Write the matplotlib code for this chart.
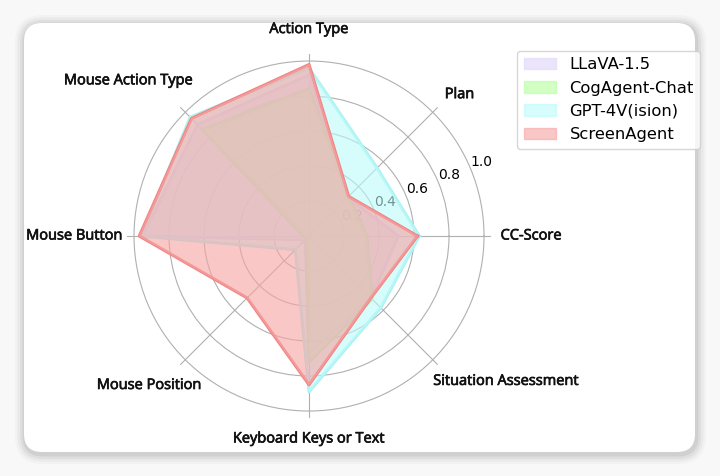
import numpy as np
import matplotlib
matplotlib.use("Agg")
import matplotlib.pyplot as plt
import matplotlib.patheffects as pe
from matplotlib.patches import FancyBboxPatch

# categories, counter-clockwise starting from the right (0 deg)
categories = ["CC-Score", "Plan", "Action Type", "Mouse Action Type",
              "Mouse Button", "Mouse Position", "Keyboard Keys or Text",
              "Situation Assessment"]

models = ["LLaVA-1.5", "CogAgent-Chat", "GPT-4V(ision)", "ScreenAgent"]
llava = [0.51, 0.31, 0.92, 0.90, 0.95, 0.03, 0.67, 0.50]
cogagent = [0.33, 0.32, 0.84, 0.86, 0.03, 0.02, 0.72, 0.51]
gpt4v = [0.63, 0.55, 0.96, 0.96, 0.96, 0.11, 0.89, 0.58]
screenagent = [0.62, 0.32, 0.98, 0.95, 0.97, 0.50, 0.85, 0.50]

rticks = [0.2, 0.4, 0.6, 0.8, 1.0]

line_colors = ["#dcc0ee", "#9fe88a", "#a8f0f0", "#f08080"]
fill_colors = ["#ded5fa", "#b4ff9e", "#bcfafa", "#f7a3a3"]

# where the category names sit (angle in deg, radius in data units)
label_ang = [0, 43.2, 90, 139.3, 180, 223.1, 270, 323.6]
label_r = [1.27, 1.18, 1.18, 1.36, 1.34, 1.25, 1.16, 1.40]

fig = plt.figure(figsize=(7.2, 4.76), dpi=100, facecolor="#f8f8f8")

# card with soft shadow
for i, a in enumerate([0.025, 0.035, 0.045, 0.06]):
    g = 0.10 - i * 0.025
    fig.patches.append(FancyBboxPatch(
        (0.24 - g + 0.01, 0.24 - g - 0.02), 6.71 + 2 * g, 4.29 + 2 * g,
        boxstyle="round,pad=0,rounding_size=%f" % (0.18 + g),
        transform=fig.dpi_scale_trans, facecolor="black", edgecolor="none",
        alpha=a, zorder=-3))
fig.patches.append(FancyBboxPatch(
    (0.24, 0.24), 6.71, 4.29, boxstyle="round,pad=0,rounding_size=0.18",
    transform=fig.dpi_scale_trans, facecolor="white", edgecolor="none",
    zorder=-2))

ax = fig.add_axes([0.1764, 0.1218, 0.5056, 0.7647], projection="polar")
ax.set_facecolor("none")

angles = np.linspace(0, 2 * np.pi, len(categories), endpoint=False)
series = [llava, cogagent, gpt4v, screenagent]
for vals, name, lc, fc in zip(series, models, line_colors, fill_colors):
    v = np.concatenate([vals, vals[:1]])
    t = np.concatenate([angles, angles[:1]])
    ax.plot(t, v, color=lc, linewidth=2.2, zorder=3)
    ax.fill(t, v, color=fc, alpha=0.6, label=name, zorder=3)

ax.set_ylim(0, 1.04)
ax.set_yticks(rticks)
ax.set_yticklabels(["%.1f" % r for r in rticks], fontsize=10)
ax.set_xticks(angles)
ax.set_xticklabels([])
ax.spines["polar"].set_visible(False)
ax.grid(color="#b0b0b0", linewidth=0.8)
ax.set_axisbelow(True)

bold_ish = [pe.withStroke(linewidth=0.5, foreground="#111111")]
for name, a, r in zip(categories, label_ang, label_r):
    ax.text(np.deg2rad(a), r, name, ha="center", va="center",
            fontsize=10.5, family="Open Sans", color="#111111",
            path_effects=bold_ish, clip_on=False)

fig.legend(loc="upper left", bbox_to_anchor=(0.718, 0.893), fontsize=11.8,
           borderaxespad=0)

fig.savefig("out.png", dpi=100, facecolor=fig.get_facecolor())
